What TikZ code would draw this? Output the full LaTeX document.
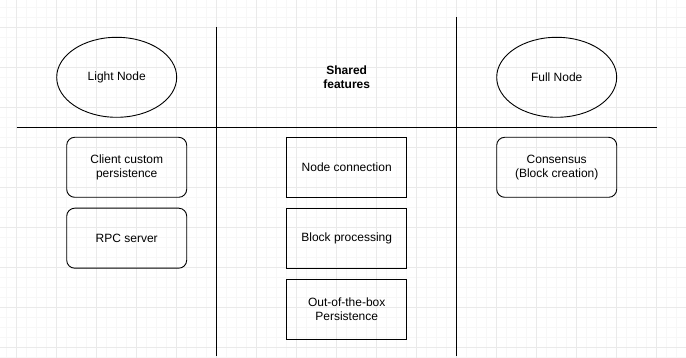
\documentclass[tikz,border=0pt]{standalone}
\usepackage{fontspec}
\setmainfont{Liberation Sans}
\usetikzlibrary{positioning,shapes.geometric}
\definecolor{gridminor}{HTML}{F7F7F7}
\definecolor{gridmajor}{HTML}{EAEAEA}

\begin{document}
\begin{tikzpicture}[x=1pt,y=-1pt,
  txt/.style={font=\fontsize{12}{14}\selectfont, align=center},
  feature/.style={txt, draw, line width=0.9pt, minimum width=120pt, minimum height=60pt, inner sep=0pt},
  ownfeature/.style={feature, rounded corners=8pt},
  nodetype/.style={txt, ellipse, draw, line width=0.9pt, minimum width=120pt, minimum height=80pt, inner sep=0pt},
  separator/.style={draw, line width=1pt}]
\useasboundingbox (0,0) rectangle (686,358);
% Background grid
\fill[white] (0,0) rectangle (686,358);
\foreach \gx in {6.7,16.7,...,686} \draw[gridminor, line width=0.8pt] (\gx,0) -- (\gx,358);
\foreach \gy in {7.3,17.3,...,358} \draw[gridminor, line width=0.8pt] (0,\gy) -- (686,\gy);
\foreach \gx in {16.7,56.7,...,686} \draw[gridmajor, line width=0.8pt] (\gx,0) -- (\gx,358);
\foreach \gy in {27.3,67.3,...,358} \draw[gridmajor, line width=0.8pt] (0,\gy) -- (686,\gy);
% Column separators
\draw[separator] (216.7,27.3) -- (216.7,356);
\draw[separator] (456.7,17.3) -- (456.7,356);
\draw[separator] (16.7,127.3) -- (656.7,127.3);
% Headers
\node[nodetype] (light) at (116.7,77.3) {Light Node};
\node[txt, font=\fontsize{12}{14}\selectfont\bfseries] (shared) at (346.7,77.3) {Shared\\features};
\node[nodetype] (full) at (556.7,77.3) {Full Node};
% Light node features
\node[ownfeature] (client) at (126.7,167.3) {Client custom\\persistence};
\node[ownfeature, below=10pt of client] (rpc) {RPC server};
% Shared features
\node[feature] (conn) at (346.7,167.3) {Node connection};
\node[feature, below=10pt of conn] (blockproc) {Block processing};
\node[feature, below=10pt of blockproc] (persist) {Out-of-the-box\\Persistence};
% Full node features
\node[ownfeature] (consensus) at (556.7,167.3) {Consensus\\(Block creation)};
\end{tikzpicture}
\end{document}
